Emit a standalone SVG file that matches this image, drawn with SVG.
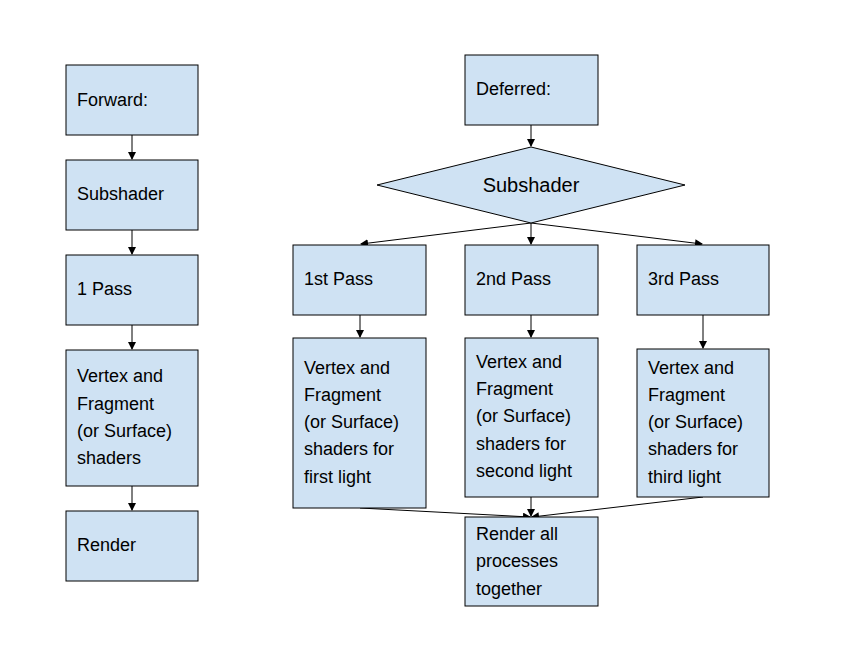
<svg xmlns="http://www.w3.org/2000/svg" width="852" height="652" viewBox="0 0 852 652">
<defs><marker id="a" markerWidth="8" markerHeight="8" refX="7" refY="4" orient="auto" markerUnits="userSpaceOnUse"><path d="M0,0 L8,4 L0,8 z" fill="#000"/></marker>
<style>.b{fill:#cfe2f3;stroke:#000;stroke-width:1}text{font-family:"Liberation Sans",Arial,sans-serif;font-size:18px;fill:#000}.c line{stroke:#000;stroke-width:1;marker-end:url(#a)}</style></defs>
<rect width="852" height="652" fill="#fff"/>
<g class="c">
<line x1="132" y1="135" x2="132" y2="159"/><line x1="132" y1="230" x2="132" y2="254"/><line x1="132" y1="325" x2="132" y2="349"/><line x1="132" y1="486" x2="132" y2="510"/>
<line x1="531" y1="125" x2="531" y2="146"/>
<line x1="531" y1="223" x2="361" y2="244"/><line x1="531" y1="223" x2="531" y2="244"/><line x1="531" y1="223" x2="702" y2="244"/>
<line x1="360" y1="315" x2="360" y2="337"/><line x1="531" y1="315" x2="531" y2="337"/><line x1="703" y1="315" x2="703" y2="348"/>
<line x1="360" y1="508" x2="530" y2="517"/><line x1="531" y1="497" x2="531" y2="516"/><line x1="703" y1="497" x2="532" y2="517"/>
</g>
<g id="forward"><rect class="b" x="66" y="65" width="132" height="70"/><text x="77" y="106">Forward:</text></g>
<g id="subL"><rect class="b" x="66" y="160" width="132" height="70"/><text x="77" y="200">Subshader</text></g>
<g id="pass1"><rect class="b" x="66" y="255" width="132" height="70"/><text x="77" y="295">1 Pass</text></g>
<g id="vfL"><rect class="b" x="66" y="350" width="132" height="136"/><text x="77" y="382">Vertex and</text><text x="77" y="410">Fragment</text><text x="77" y="437">(or Surface)</text><text x="77" y="464">shaders</text></g>
<g id="renderL"><rect class="b" x="66" y="511" width="132" height="70"/><text x="77" y="551">Render</text></g>
<g id="deferred"><rect class="b" x="465" y="55" width="133" height="70"/><text x="476" y="95">Deferred:</text></g>
<g id="subR"><polygon class="b" points="531,147 685,185 531,223 377,185"/><text x="531" y="192" text-anchor="middle" font-size="20" style="font-size:20px">Subshader</text></g>
<g id="p1"><rect class="b" x="293" y="245" width="133" height="70"/><text x="304" y="285">1st Pass</text></g>
<g id="p2"><rect class="b" x="465" y="245" width="133" height="70"/><text x="476" y="285">2nd Pass</text></g>
<g id="p3"><rect class="b" x="637" y="245" width="132" height="70"/><text x="648" y="285">3rd Pass</text></g>
<g id="v1"><rect class="b" x="293" y="338" width="133" height="170"/><text x="304" y="374">Vertex and</text><text x="304" y="401">Fragment</text><text x="304" y="428">(or Surface)</text><text x="304" y="455">shaders for</text><text x="304" y="483">first light</text></g>
<g id="v2"><rect class="b" x="465" y="338" width="133" height="159"/><text x="476" y="368">Vertex and</text><text x="476" y="395">Fragment</text><text x="476" y="422">(or Surface)</text><text x="476" y="450">shaders for</text><text x="476" y="477">second light</text></g>
<g id="v3"><rect class="b" x="637" y="349" width="132" height="148"/><text x="648" y="374">Vertex and</text><text x="648" y="401">Fragment</text><text x="648" y="428">(or Surface)</text><text x="648" y="455">shaders for</text><text x="648" y="483">third light</text></g>
<g id="renderR"><rect class="b" x="465" y="517" width="133" height="89"/><text x="476" y="540">Render all</text><text x="476" y="567">processes</text><text x="476" y="595">together</text></g>
</svg>
